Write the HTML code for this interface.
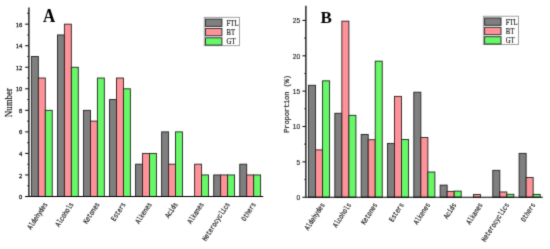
<!DOCTYPE html>
<html><head><meta charset="utf-8"><title>Volatile compounds</title>
<style>
html,body{margin:0;padding:0;background:#fff;}
svg{display:block;}
.ax{stroke:#1a1a1a;stroke-width:1.4;}
.tk{stroke:#1a1a1a;stroke-width:1.1;}
.xa{stroke:#000;stroke-width:1.15;}
.ta{font-family:"Liberation Serif",serif;font-size:6.8px;fill:#111;stroke:#111;stroke-width:0.25px;}
.tb{font-family:"Liberation Sans",sans-serif;font-size:6.6px;fill:#222;stroke:#222;stroke-width:0.15px;}
.xl{font-family:"Liberation Mono",monospace;font-size:7.6px;fill:#222;stroke:#222;stroke-width:0.18px;}
.lg{font-family:"Liberation Serif",serif;font-size:8.1px;fill:#111;stroke:#111;stroke-width:0.15px;}
.pa{font-family:"Liberation Serif",serif;font-size:18.2px;font-weight:bold;fill:#000;}
.pb{font-family:"Liberation Serif",serif;font-size:17px;font-weight:bold;fill:#000;}
.yl{font-family:"Liberation Serif",serif;font-size:9.8px;fill:#111;stroke:#111;stroke-width:0.15px;}
.yb{font-family:"Liberation Mono",monospace;font-size:7.2px;fill:#222;stroke:#222;stroke-width:0.2px;letter-spacing:-0.2px;}
</style></head><body>
<svg width="550" height="249" viewBox="0 0 550 249">
<defs><filter id="soft" x="0" y="0" width="100%" height="100%" color-interpolation-filters="sRGB"><feConvolveMatrix order="3" kernelMatrix="0.0169 0.0962 0.0169 0.0962 0.5476 0.0962 0.0169 0.0962 0.0169" edgeMode="duplicate" preserveAlpha="true"/></filter></defs>
<rect width="550" height="249" fill="#fff"/>
<g filter="url(#soft)">
<rect width="550" height="249" fill="#fff"/>
<g id="A">
<rect x="31.4" y="56.49" width="6.95" height="140.01" fill="#7F7F7F" stroke="#222" stroke-width="0.9"/>
<rect x="38.35" y="78.03" width="6.95" height="118.47" fill="#FF9298" stroke="#222" stroke-width="0.9"/>
<rect x="45.29" y="110.34" width="6.95" height="86.16" fill="#66F866" stroke="#222" stroke-width="0.9"/>
<rect x="57.45" y="34.95" width="6.95" height="161.55" fill="#7F7F7F" stroke="#222" stroke-width="0.9"/>
<rect x="64.39" y="24.18" width="6.95" height="172.32" fill="#FF9298" stroke="#222" stroke-width="0.9"/>
<rect x="71.34" y="67.26" width="6.95" height="129.24" fill="#66F866" stroke="#222" stroke-width="0.9"/>
<rect x="83.49" y="110.34" width="6.95" height="86.16" fill="#7F7F7F" stroke="#222" stroke-width="0.9"/>
<rect x="90.44" y="121.11" width="6.95" height="75.39" fill="#FF9298" stroke="#222" stroke-width="0.9"/>
<rect x="97.38" y="78.03" width="6.95" height="118.47" fill="#66F866" stroke="#222" stroke-width="0.9"/>
<rect x="109.54" y="99.57" width="6.95" height="96.93" fill="#7F7F7F" stroke="#222" stroke-width="0.9"/>
<rect x="116.48" y="78.03" width="6.95" height="118.47" fill="#FF9298" stroke="#222" stroke-width="0.9"/>
<rect x="123.43" y="88.8" width="6.95" height="107.7" fill="#66F866" stroke="#222" stroke-width="0.9"/>
<rect x="135.58" y="164.19" width="6.95" height="32.31" fill="#7F7F7F" stroke="#222" stroke-width="0.9"/>
<rect x="142.53" y="153.42" width="6.95" height="43.08" fill="#FF9298" stroke="#222" stroke-width="0.9"/>
<rect x="149.47" y="153.42" width="6.95" height="43.08" fill="#66F866" stroke="#222" stroke-width="0.9"/>
<rect x="161.63" y="131.88" width="6.95" height="64.62" fill="#7F7F7F" stroke="#222" stroke-width="0.9"/>
<rect x="168.57" y="164.19" width="6.95" height="32.31" fill="#FF9298" stroke="#222" stroke-width="0.9"/>
<rect x="175.52" y="131.88" width="6.95" height="64.62" fill="#66F866" stroke="#222" stroke-width="0.9"/>
<rect x="194.62" y="164.19" width="6.95" height="32.31" fill="#FF9298" stroke="#222" stroke-width="0.9"/>
<rect x="201.56" y="174.96" width="6.95" height="21.54" fill="#66F866" stroke="#222" stroke-width="0.9"/>
<rect x="213.72" y="174.96" width="6.95" height="21.54" fill="#7F7F7F" stroke="#222" stroke-width="0.9"/>
<rect x="220.66" y="174.96" width="6.95" height="21.54" fill="#FF9298" stroke="#222" stroke-width="0.9"/>
<rect x="227.61" y="174.96" width="6.95" height="21.54" fill="#66F866" stroke="#222" stroke-width="0.9"/>
<rect x="239.76" y="164.19" width="6.95" height="32.31" fill="#7F7F7F" stroke="#222" stroke-width="0.9"/>
<rect x="246.71" y="174.96" width="6.95" height="21.54" fill="#FF9298" stroke="#222" stroke-width="0.9"/>
<rect x="253.65" y="174.96" width="6.95" height="21.54" fill="#66F866" stroke="#222" stroke-width="0.9"/>
<line x1="28.9" y1="7.43" x2="28.9" y2="196.5" class="ax"/>
<line x1="25.1" y1="196.5" x2="263.2" y2="196.5" class="xa"/>
<text transform="translate(22.2 199.05) scale(0.95 1)" class="ta" text-anchor="end">0</text>
<line x1="27.3" y1="185.73" x2="28.9" y2="185.73" class="tk"/>
<line x1="25.1" y1="174.96" x2="28.9" y2="174.96" class="tk"/>
<text transform="translate(22.2 177.51) scale(0.95 1)" class="ta" text-anchor="end">2</text>
<line x1="27.3" y1="164.19" x2="28.9" y2="164.19" class="tk"/>
<line x1="25.1" y1="153.42" x2="28.9" y2="153.42" class="tk"/>
<text transform="translate(22.2 155.97) scale(0.95 1)" class="ta" text-anchor="end">4</text>
<line x1="27.3" y1="142.65" x2="28.9" y2="142.65" class="tk"/>
<line x1="25.1" y1="131.88" x2="28.9" y2="131.88" class="tk"/>
<text transform="translate(22.2 134.43) scale(0.95 1)" class="ta" text-anchor="end">6</text>
<line x1="27.3" y1="121.11" x2="28.9" y2="121.11" class="tk"/>
<line x1="25.1" y1="110.34" x2="28.9" y2="110.34" class="tk"/>
<text transform="translate(22.2 112.89) scale(0.95 1)" class="ta" text-anchor="end">8</text>
<line x1="27.3" y1="99.57" x2="28.9" y2="99.57" class="tk"/>
<line x1="25.1" y1="88.8" x2="28.9" y2="88.8" class="tk"/>
<text transform="translate(22.2 91.35) scale(0.95 1)" class="ta" text-anchor="end">10</text>
<line x1="27.3" y1="78.03" x2="28.9" y2="78.03" class="tk"/>
<line x1="25.1" y1="67.26" x2="28.9" y2="67.26" class="tk"/>
<text transform="translate(22.2 69.81) scale(0.95 1)" class="ta" text-anchor="end">12</text>
<line x1="27.3" y1="56.49" x2="28.9" y2="56.49" class="tk"/>
<line x1="25.1" y1="45.72" x2="28.9" y2="45.72" class="tk"/>
<text transform="translate(22.2 48.27) scale(0.95 1)" class="ta" text-anchor="end">14</text>
<line x1="27.3" y1="34.95" x2="28.9" y2="34.95" class="tk"/>
<line x1="25.1" y1="24.18" x2="28.9" y2="24.18" class="tk"/>
<text transform="translate(22.2 26.73) scale(0.95 1)" class="ta" text-anchor="end">16</text>
<line x1="27.3" y1="13.41" x2="28.9" y2="13.41" class="tk"/>
<text transform="translate(47.82 204.3) rotate(-57) scale(0.75 1)" class="xl" text-anchor="end">Aldehydes</text>
<text transform="translate(73.87 204.3) rotate(-57) scale(0.75 1)" class="xl" text-anchor="end">Alcohols</text>
<text transform="translate(99.91 204.3) rotate(-57) scale(0.75 1)" class="xl" text-anchor="end">Ketones</text>
<text transform="translate(125.96 204.3) rotate(-57) scale(0.75 1)" class="xl" text-anchor="end">Esters</text>
<text transform="translate(152 204.3) rotate(-57) scale(0.75 1)" class="xl" text-anchor="end">Alkenes</text>
<text transform="translate(178.04 204.3) rotate(-57) scale(0.75 1)" class="xl" text-anchor="end">Acids</text>
<text transform="translate(204.09 204.3) rotate(-57) scale(0.75 1)" class="xl" text-anchor="end">Alkanes</text>
<text transform="translate(230.13 204.3) rotate(-57) scale(0.75 1)" class="xl" text-anchor="end">Heterocyclics</text>
<text transform="translate(256.18 204.3) rotate(-57) scale(0.75 1)" class="xl" text-anchor="end">Others</text>
<rect x="204.2" y="17.3" width="35.2" height="28.4" fill="#fff" stroke="#8a8a8a" stroke-width="0.8"/>
<rect x="205.5" y="19.1" width="16.4" height="7.3" fill="#7F7F7F" stroke="#333" stroke-width="1"/>
<text transform="translate(226.6 25.9) scale(0.83 1)" class="lg">FTL</text>
<rect x="205.5" y="28.45" width="16.4" height="7.3" fill="#FF9298" stroke="#333" stroke-width="1"/>
<text transform="translate(226.6 34.95) scale(0.83 1)" class="lg">BT</text>
<rect x="205.5" y="37.8" width="16.4" height="7.3" fill="#66F866" stroke="#333" stroke-width="1"/>
<text transform="translate(226.6 44) scale(0.83 1)" class="lg">GT</text>
<text transform="translate(43 21.7) scale(0.93 1)" class="pa">A</text>
<text transform="translate(12.4 102.7) rotate(-90) scale(0.9 1)" class="yl" text-anchor="middle">Number</text>
</g>
<g id="B">
<rect x="308.53" y="85.28" width="7.02" height="111.92" fill="#7F7F7F" stroke="#222" stroke-width="0.9"/>
<rect x="315.55" y="149.9" width="7.02" height="47.3" fill="#FF9298" stroke="#222" stroke-width="0.9"/>
<rect x="322.57" y="80.83" width="7.02" height="116.37" fill="#66F866" stroke="#222" stroke-width="0.9"/>
<rect x="334.85" y="113.28" width="7.02" height="83.92" fill="#7F7F7F" stroke="#222" stroke-width="0.9"/>
<rect x="341.87" y="21.16" width="7.02" height="176.04" fill="#FF9298" stroke="#222" stroke-width="0.9"/>
<rect x="348.89" y="115.33" width="7.02" height="81.87" fill="#66F866" stroke="#222" stroke-width="0.9"/>
<rect x="361.18" y="134.42" width="7.02" height="62.78" fill="#7F7F7F" stroke="#222" stroke-width="0.9"/>
<rect x="368.2" y="139.72" width="7.02" height="57.48" fill="#FF9298" stroke="#222" stroke-width="0.9"/>
<rect x="375.22" y="61.17" width="7.02" height="136.03" fill="#66F866" stroke="#222" stroke-width="0.9"/>
<rect x="387.5" y="143.4" width="7.02" height="53.8" fill="#7F7F7F" stroke="#222" stroke-width="0.9"/>
<rect x="394.52" y="96.38" width="7.02" height="100.82" fill="#FF9298" stroke="#222" stroke-width="0.9"/>
<rect x="401.54" y="139.51" width="7.02" height="57.69" fill="#66F866" stroke="#222" stroke-width="0.9"/>
<rect x="413.82" y="92.21" width="7.02" height="104.99" fill="#7F7F7F" stroke="#222" stroke-width="0.9"/>
<rect x="420.84" y="137.53" width="7.02" height="59.67" fill="#FF9298" stroke="#222" stroke-width="0.9"/>
<rect x="427.86" y="172.03" width="7.02" height="25.17" fill="#66F866" stroke="#222" stroke-width="0.9"/>
<rect x="440.14" y="185.11" width="7.02" height="12.09" fill="#7F7F7F" stroke="#222" stroke-width="0.9"/>
<rect x="447.16" y="191.4" width="7.02" height="5.8" fill="#FF9298" stroke="#222" stroke-width="0.9"/>
<rect x="454.18" y="191.12" width="7.02" height="6.08" fill="#66F866" stroke="#222" stroke-width="0.9"/>
<rect x="473.48" y="194.51" width="7.02" height="2.69" fill="#FF9298" stroke="#222" stroke-width="0.9"/>
<rect x="492.79" y="170.33" width="7.02" height="26.87" fill="#7F7F7F" stroke="#222" stroke-width="0.9"/>
<rect x="499.81" y="191.97" width="7.02" height="5.23" fill="#FF9298" stroke="#222" stroke-width="0.9"/>
<rect x="506.83" y="194.3" width="7.02" height="2.9" fill="#66F866" stroke="#222" stroke-width="0.9"/>
<rect x="519.11" y="153.37" width="7.02" height="43.83" fill="#7F7F7F" stroke="#222" stroke-width="0.9"/>
<rect x="526.13" y="177.47" width="7.02" height="19.73" fill="#FF9298" stroke="#222" stroke-width="0.9"/>
<rect x="533.15" y="194.37" width="7.02" height="2.83" fill="#66F866" stroke="#222" stroke-width="0.9"/>
<line x1="305.9" y1="5.71" x2="305.9" y2="197.2" class="ax"/>
<line x1="302.4" y1="197.2" x2="542.8" y2="197.2" class="xa"/>
<text transform="translate(300.1 200.1)" class="tb" text-anchor="end">0</text>
<line x1="304.4" y1="179.52" x2="305.9" y2="179.52" class="tk"/>
<line x1="302.4" y1="161.85" x2="305.9" y2="161.85" class="tk"/>
<text transform="translate(300.1 164.75)" class="tb" text-anchor="end">5</text>
<line x1="304.4" y1="144.17" x2="305.9" y2="144.17" class="tk"/>
<line x1="302.4" y1="126.5" x2="305.9" y2="126.5" class="tk"/>
<text transform="translate(300.1 129.4)" class="tb" text-anchor="end">10</text>
<line x1="304.4" y1="108.82" x2="305.9" y2="108.82" class="tk"/>
<line x1="302.4" y1="91.15" x2="305.9" y2="91.15" class="tk"/>
<text transform="translate(300.1 94.05)" class="tb" text-anchor="end">15</text>
<line x1="304.4" y1="73.47" x2="305.9" y2="73.47" class="tk"/>
<line x1="302.4" y1="55.8" x2="305.9" y2="55.8" class="tk"/>
<text transform="translate(300.1 58.7)" class="tb" text-anchor="end">20</text>
<line x1="304.4" y1="38.12" x2="305.9" y2="38.12" class="tk"/>
<line x1="302.4" y1="20.45" x2="305.9" y2="20.45" class="tk"/>
<text transform="translate(300.1 23.35)" class="tb" text-anchor="end">25</text>
<text transform="translate(325.06 205) rotate(-57) scale(0.75 1)" class="xl" text-anchor="end">Aldehydes</text>
<text transform="translate(351.38 205) rotate(-57) scale(0.75 1)" class="xl" text-anchor="end">Alcohols</text>
<text transform="translate(377.71 205) rotate(-57) scale(0.75 1)" class="xl" text-anchor="end">Ketones</text>
<text transform="translate(404.03 205) rotate(-57) scale(0.75 1)" class="xl" text-anchor="end">Esters</text>
<text transform="translate(430.35 205) rotate(-57) scale(0.75 1)" class="xl" text-anchor="end">Alkenes</text>
<text transform="translate(456.67 205) rotate(-57) scale(0.75 1)" class="xl" text-anchor="end">Acids</text>
<text transform="translate(482.99 205) rotate(-57) scale(0.75 1)" class="xl" text-anchor="end">Alkanes</text>
<text transform="translate(509.32 205) rotate(-57) scale(0.75 1)" class="xl" text-anchor="end">Heterocyclics</text>
<text transform="translate(535.64 205) rotate(-57) scale(0.75 1)" class="xl" text-anchor="end">Others</text>
<rect x="483.3" y="16.2" width="35.2" height="28.4" fill="#fff" stroke="#8a8a8a" stroke-width="0.8"/>
<rect x="484.6" y="18" width="16.4" height="7.3" fill="#7F7F7F" stroke="#333" stroke-width="1"/>
<text transform="translate(505.7 24.8) scale(0.83 1)" class="lg">FTL</text>
<rect x="484.6" y="27.35" width="16.4" height="7.3" fill="#FF9298" stroke="#333" stroke-width="1"/>
<text transform="translate(505.7 33.85) scale(0.83 1)" class="lg">BT</text>
<rect x="484.6" y="36.7" width="16.4" height="7.3" fill="#66F866" stroke="#333" stroke-width="1"/>
<text transform="translate(505.7 42.9) scale(0.83 1)" class="lg">GT</text>
<text transform="translate(320.6 22.5)" class="pb">B</text>
<text transform="translate(289.4 104) rotate(-90)" class="yb" text-anchor="middle">Proportion (%)</text>
</g>
</g>
</svg>
</body></html>
